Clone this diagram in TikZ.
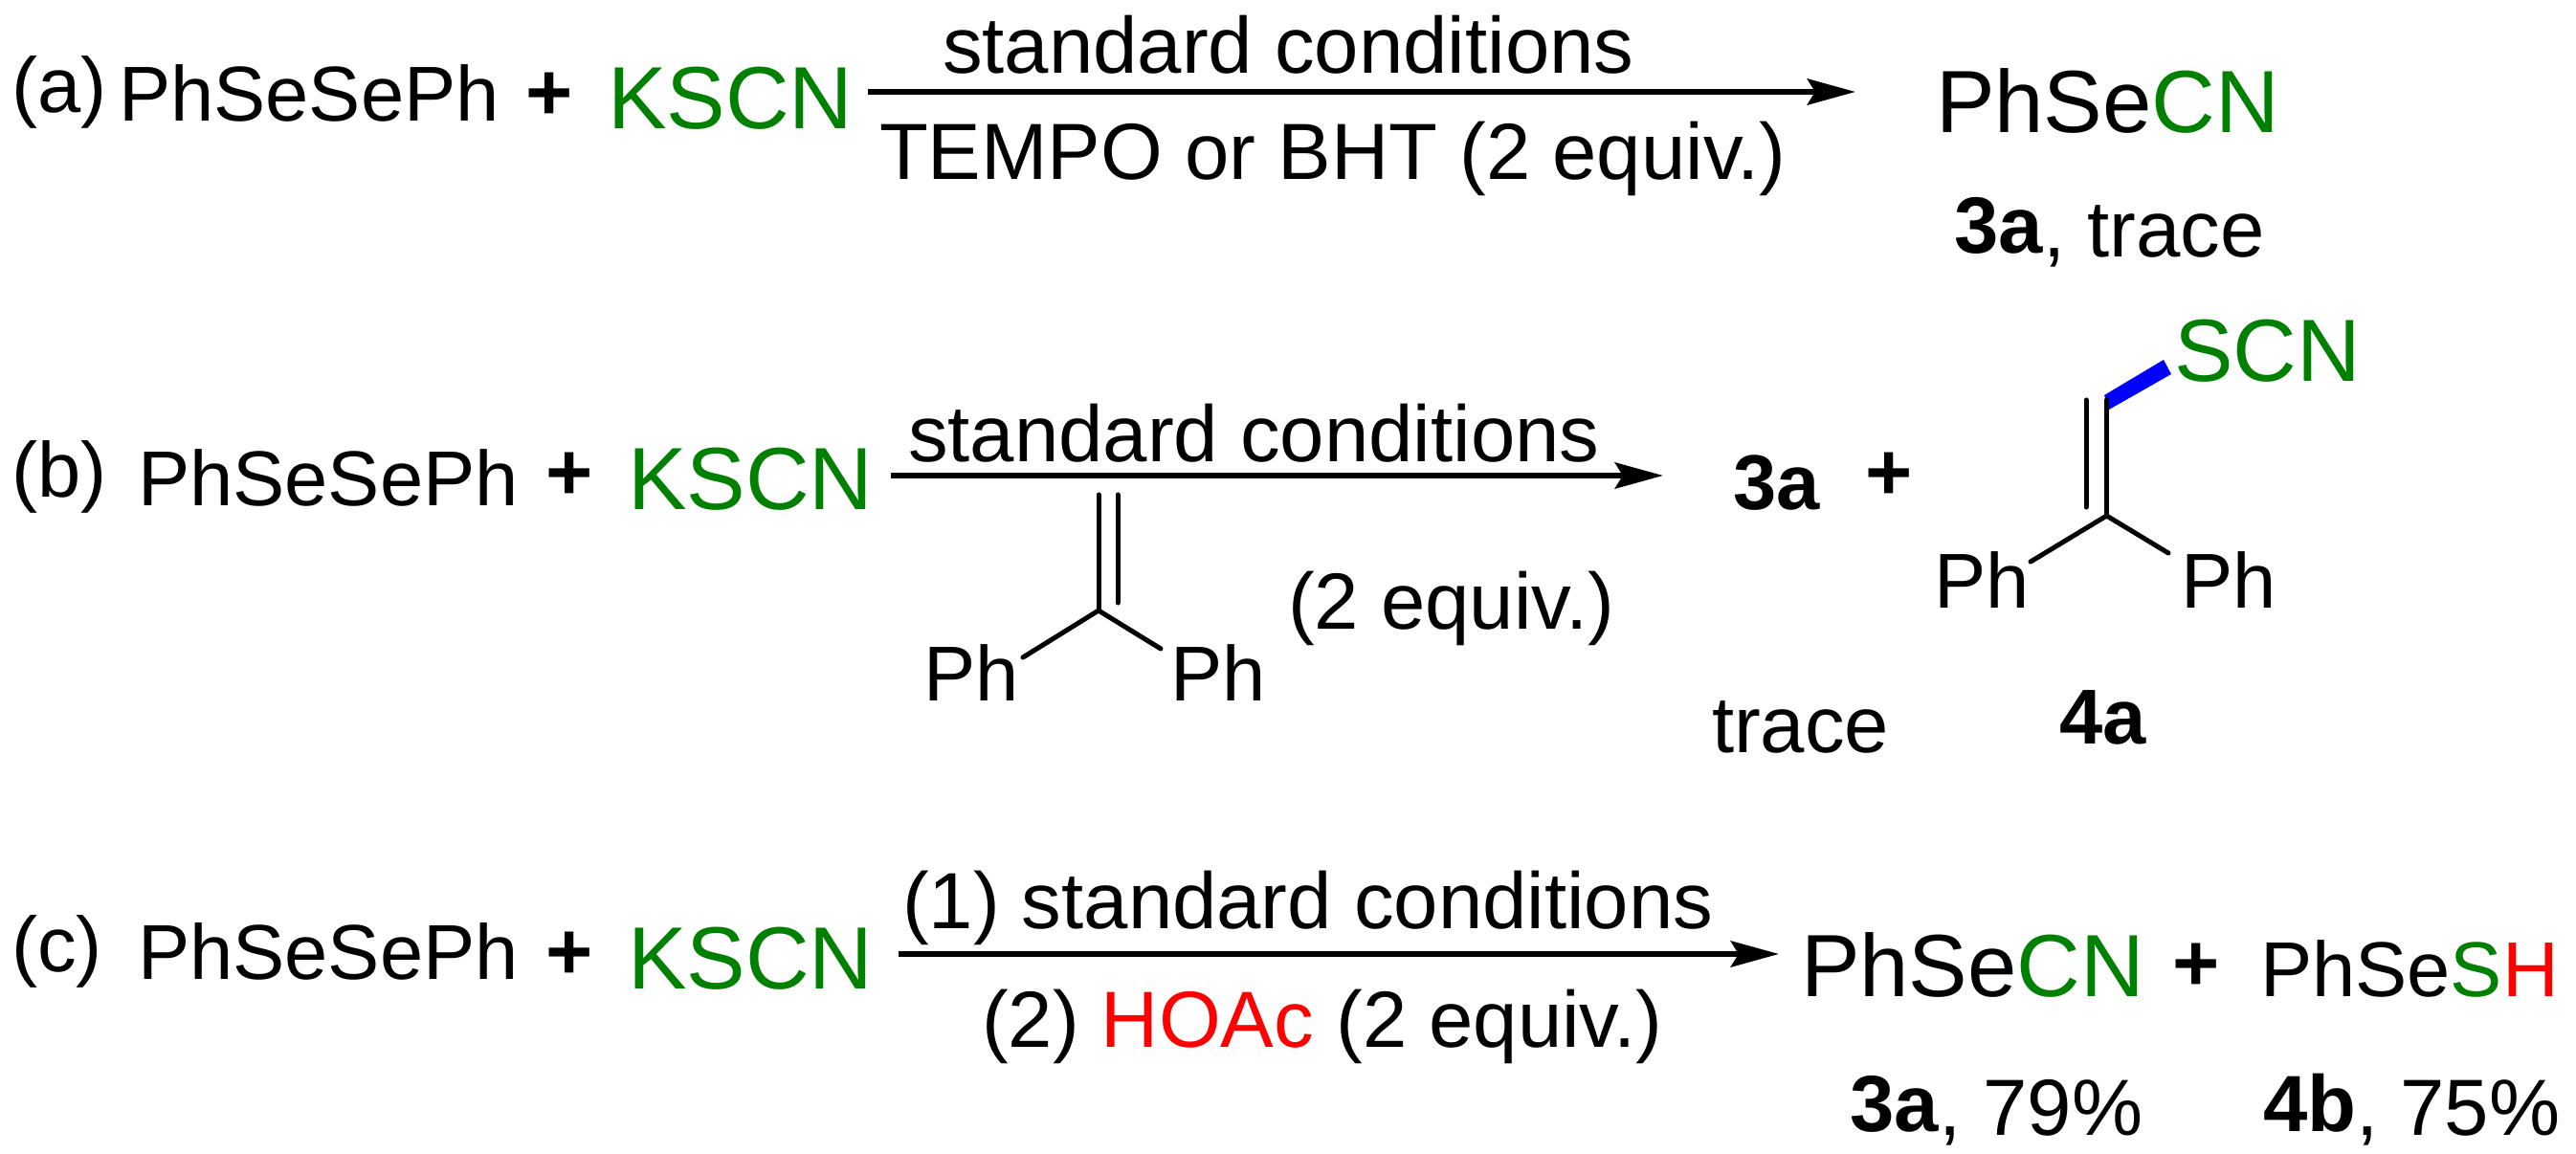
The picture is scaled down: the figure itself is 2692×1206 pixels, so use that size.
\documentclass[tikz,border=0pt]{standalone}
\usepackage{fontspec}
\setmainfont{Liberation Sans}
\usetikzlibrary{arrows.meta}
\definecolor{kgreen}{RGB}{0,128,0}
\definecolor{bblue}{RGB}{0,0,255}
\newcommand{\tsize}{\fontsize{83}{90}\selectfont}
\newcommand{\bnum}[1]{\raisebox{3pt}{\textbf{#1}}}
\tikzset{
 txt/.style={anchor=base west,inner sep=0pt,outer sep=0pt,font=\tsize},
 reag/.style={anchor=base west,inner sep=0pt,outer sep=0pt,font=\fontsize{81}{90}\selectfont},
 big/.style={anchor=base west,inner sep=0pt,outer sep=0pt,font=\fontsize{92}{100}\selectfont},
 boldnum/.style={anchor=base west,inner sep=0pt,outer sep=0pt,font=\fontsize{81}{90}\bfseries\selectfont},
 gr/.style={text=kgreen},
 plus/.style={anchor=center,inner sep=0pt,font=\fontsize{84}{90}\bfseries\selectfont},
 rxn/.style={line width=6pt,-{Stealth[length=50pt,width=27pt,inset=8pt]}},
 bond/.style={line width=5pt,line cap=round},
}
\begin{document}
\begin{tikzpicture}[x=0.99626pt,y=-0.99626pt]
\useasboundingbox (0,0) rectangle (2692,1206);
% row a
\node[reag] (la) at (12,118) {(a)};
\node[reag] (r1a) at (124,127) {PhSeSePh};
\node[plus] (pa) at (574,101) {+};
\node[big,gr] (ka) at (635,135) {KSCN};
\coordinate (a1) at (907,96); \coordinate (a2) at (1939,96);
\draw[rxn] (a1) -- (a2);
\node[txt] (ca) at (985,77) {standard conditions};
\node[txt] (da) at (919,188) {TEMPO or BHT (2 equiv.)};
\node[big] (pra) at (2023,139) {PhSe\textcolor{kgreen}{CN}};
\node[txt] (na) at (2042,268) {\bnum{3a}, trace};
% row b
\node[reag] (lb) at (12,519) {(b)};
\node[reag] (r1b) at (144,528) {PhSeSePh};
\node[plus] (pb) at (595,498) {+};
\node[big,gr] (kb) at (656,532) {KSCN};
\coordinate (b1) at (931,497); \coordinate (b2) at (1738,497);
\draw[rxn] (b1) -- (b2);
\node[txt] (cb) at (949,482) {standard conditions};
\coordinate (c0) at (1148,638); \coordinate (c1) at (1148,517);
\coordinate (c2) at (1168,517); \coordinate (c3) at (1168,630);
\node[reag] (ph1) at (965,732) {Ph};
\node[reag] (ph2) at (1223,732) {Ph};
\coordinate (e1) at (1069,687); \coordinate (e2) at (1213,678);
\draw[bond] (c1) -- (c0); \draw[bond] (c2) -- (c3);
\draw[bond] (c0) -- (e1); \draw[bond] (c0) -- (e2);
\node[txt] (db) at (1346,657) {(2 equiv.)};
\node[boldnum] (t3a) at (1811,532) {3a};
\node[plus] (pb2) at (1974,498) {+};
\coordinate (f0) at (2201.5,539); \coordinate (f1) at (2201.5,418);
\coordinate (f2) at (2180,418); \coordinate (f3) at (2180,530);
\coordinate (g1) at (2122,587); \coordinate (g2) at (2266,578);
\fill[bblue] (2199,413) -- (2261,376) -- (2269,391) -- (2204,428) -- cycle;
\draw[bond] (f1) -- (f0); \draw[bond] (f2) -- (f3);
\draw[bond] (f0) -- (g1); \draw[bond] (f0) -- (g2);
\node[reag] (ph3) at (2021,635) {Ph};
\node[reag] (ph4) at (2279,635) {Ph};
\node[big,gr] (scn) at (2272,398) {SCN};
\node[txt] (tr) at (1789,786) {trace};
\node[boldnum] (t4a) at (2152,777) {4a};
% row c
\node[reag] (lc) at (12,1015) {(c)};
\node[reag] (r1c) at (144,1023) {PhSeSePh};
\node[plus] (pc) at (595,999) {+};
\node[big,gr] (kc) at (656,1033) {KSCN};
\coordinate (d1) at (939,997); \coordinate (d2) at (1859,997);
\draw[rxn] (d1) -- (d2);
\node[txt] (cc) at (943,970) {(1) standard conditions};
\node[txt] (dc) at (1026,1094) {(2) \textcolor{red}{HOAc} (2 equiv.)};
\node[big] (prc) at (1882,1041) {PhSe\textcolor{kgreen}{CN}};
\node[plus] (pc2) at (2295,1011) {+};
\node[reag] (prd) at (2362,1041) {PhSe\textcolor{kgreen}{S}\textcolor{red}{H}};
\node[txt] (nc) at (1933,1186) {\bnum{3a}, 79\%};
\node[txt] (nd) at (2365,1186) {\bnum{4b}, 75\%};
\end{tikzpicture}
\end{document}
